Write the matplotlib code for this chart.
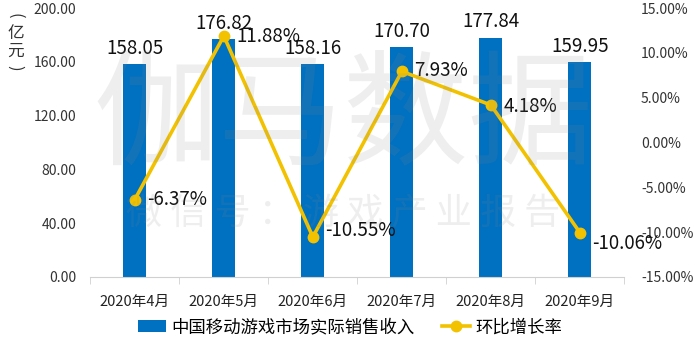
import numpy as np
import matplotlib.pyplot as plt

plt.rcParams['font.family'] = ['Noto Sans CJK SC', 'DejaVu Sans']

months = ['2020年4月', '2020年5月', '2020年6月', '2020年7月', '2020年8月', '2020年9月']
revenue = [158.05, 176.82, 158.16, 170.70, 177.84, 159.95]   # 亿元
growth = [-6.37, 11.88, -10.55, 7.93, 4.18, -10.06]          # %

bar_color = '#0070C0'
line_color = '#F2C200'

fig = plt.figure(figsize=(7, 3.5), dpi=100)
ax = fig.add_axes([0.129, 0.209, 0.763, 0.768])
x = np.arange(len(months))

ax.bar(x, revenue, width=0.26, color=bar_color, zorder=2, label='中国移动游戏市场实际销售收入')
for xi, v in zip(x, revenue):
    ax.text(xi, v + 4, f'{v:.2f}', ha='center', va='bottom', fontsize=13.5, color='#111111')

ax.set_xlim(-0.5, len(months) - 0.5)
ax.set_ylim(0, 200)
ax.set_yticks(np.arange(0, 201, 40))
ax.set_yticklabels([f'{t:.2f}' for t in np.arange(0, 201, 40)], fontsize=10, color='#333333')
ax.set_xticks(x)
ax.set_xticklabels(months, fontsize=10.5, color='#222222')
ax.set_xticks(np.arange(-0.5, len(months)), minor=True)
ax.tick_params(axis='x', which='major', length=0, pad=13)
ax.tick_params(axis='x', which='minor', length=5, color='#d0d0d0')
ax.tick_params(axis='y', length=0, pad=10)
for s in ['top', 'left', 'right']:
    ax.spines[s].set_visible(False)
ax.spines['bottom'].set_color('#d0d0d0')

ax2 = ax.twinx()
ax2.plot(x, growth, color=line_color, lw=2.6, marker='o', ms=7.5, zorder=3, label='环比增长率')
ax2.set_ylim(-15, 15)
ax2.set_yticks(np.arange(-15, 16, 5))
ax2.set_yticklabels([f'{t:.2f}%' for t in np.arange(-15, 16, 5)], fontsize=10, color='#333333')
ax2.tick_params(axis='y', length=0, pad=12)
for s in ['top', 'left', 'right', 'bottom']:
    ax2.spines[s].set_visible(False)

offsets = [(9, 0), (9, 0), (9, 5), (9, 1), (9, -1), (9, -8)]
for xi, g, (dx, dy) in zip(x, growth, offsets):
    ax2.annotate(f'{g:.2f}%', (xi, g), xytext=(dx, dy), textcoords='offset points',
                 ha='left', va='center', fontsize=13.5, color='#111111', zorder=5)

# left axis unit label, stacked vertically
for yy, ch, rot in [(0.955, '(', -90), (0.905, '亿', 0), (0.853, '元', 0), (0.805, ')', -90)]:
    fig.text(0.022, yy, ch, ha='center', va='center', fontsize=12, color='#333333', rotation=rot)

# watermark
fig.text(0.49, 0.66, '伽马数据', ha='center', va='center', fontsize=90,
         color='#888888', alpha=0.14, zorder=10)
fig.text(0.49, 0.39, '微 信 号 ： 游 戏 产 业 报 告', ha='center', va='center', fontsize=26,
         color='#888888', alpha=0.14, zorder=10)

h1, l1 = ax.get_legend_handles_labels()
h2, l2 = ax2.get_legend_handles_labels()
fig.legend(h1 + h2, l1 + l2, loc='center', bbox_to_anchor=(0.5, 0.065), ncol=2,
           frameon=False, fontsize=12.5, handlelength=1.6, columnspacing=1.6, handletextpad=0.3)

fig.savefig('out.png', dpi=100)
